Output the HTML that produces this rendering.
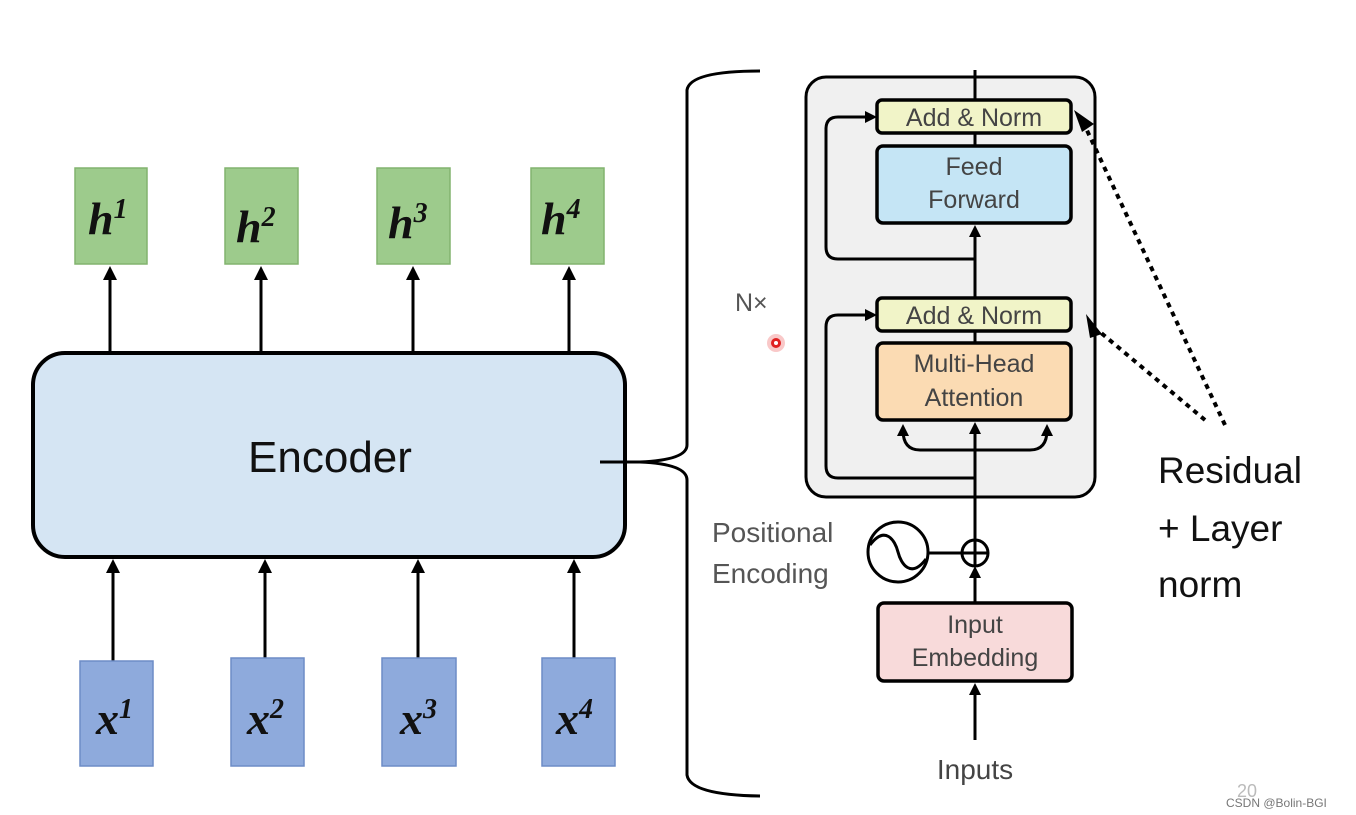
<!DOCTYPE html>
<html><head><meta charset="utf-8"><style>
html,body{margin:0;padding:0;background:#fff;width:1356px;height:815px;overflow:hidden}
svg{display:block}
.m{font-family:"Liberation Serif",serif;font-weight:bold;font-style:italic;font-size:46px;fill:#111}
.s{font-family:"Liberation Sans",sans-serif;fill:#444;font-size:25px}
</style></head><body>
<svg width="1356" height="815" viewBox="0 0 1356 815">
<defs>
<marker id="a" markerWidth="12" markerHeight="12" refX="6" refY="6" orient="auto" markerUnits="userSpaceOnUse"><path d="M0,0 L12,6 L0,12 z" fill="#000"/></marker>
<marker id="b" markerWidth="14" markerHeight="14" refX="10" refY="7" orient="auto" markerUnits="userSpaceOnUse"><path d="M0,0 L14,7 L0,14 z" fill="#000"/></marker>
</defs>
<g fill="#9dcb8c" stroke="#82b36f" stroke-width="1.5">
<rect x="75" y="168" width="72" height="96"/><rect x="225" y="168" width="73" height="96"/>
<rect x="377" y="168" width="73" height="96"/><rect x="531" y="168" width="73" height="96"/>
</g>
<g class="m"><text x="88" y="234">h<tspan style="font-size:28px" dy="-16">1</tspan></text>
<text x="236" y="242">h<tspan style="font-size:28px" dy="-16">2</tspan></text>
<text x="388" y="238">h<tspan style="font-size:28px" dy="-16">3</tspan></text>
<text x="541" y="234">h<tspan style="font-size:28px" dy="-16">4</tspan></text></g>
<g stroke="#000" stroke-width="3" marker-end="url(#b)">
<line x1="110" y1="352" x2="110" y2="270"/><line x1="261" y1="352" x2="261" y2="270"/>
<line x1="413" y1="352" x2="413" y2="270"/><line x1="569" y1="352" x2="569" y2="270"/>
<line x1="113" y1="661" x2="113" y2="563"/><line x1="265" y1="658" x2="265" y2="563"/>
<line x1="418" y1="658" x2="418" y2="563"/><line x1="574" y1="658" x2="574" y2="563"/>
</g>
<rect x="33" y="353" width="592" height="204" rx="32" fill="#d5e5f3" stroke="#000" stroke-width="4"/>
<text x="330" y="472" font-family="Liberation Sans,sans-serif" font-size="44" fill="#111" text-anchor="middle">Encoder</text>
<g fill="#8eaadc" stroke="#6d8cc6" stroke-width="1.5">
<rect x="80" y="661" width="73" height="105"/><rect x="231" y="658" width="73" height="108"/>
<rect x="382" y="658" width="74" height="108"/><rect x="542" y="658" width="73" height="108"/>
</g>
<g class="m"><text x="96" y="734">x<tspan style="font-size:28px" dy="-16">1</tspan></text>
<text x="247" y="734">x<tspan style="font-size:28px" dy="-16">2</tspan></text>
<text x="400" y="734">x<tspan style="font-size:28px" dy="-16">3</tspan></text>
<text x="556" y="734">x<tspan style="font-size:28px" dy="-16">4</tspan></text></g>
<path d="M760,71 Q690,71 687,90 L687,445 Q687,460 640,462 L600,462 M640,462 Q687,464 687,480 L687,775 Q690,795 760,796" fill="none" stroke="#000" stroke-width="3"/>
<rect x="806" y="77" width="289" height="420" rx="20" fill="#f0f0f0" stroke="#000" stroke-width="3"/>
<g stroke="#000" stroke-width="3" fill="none">
<line x1="975" y1="70" x2="975" y2="100"/>
<line x1="975" y1="133" x2="975" y2="146"/>
<line x1="975" y1="331" x2="975" y2="343"/>
<line x1="975" y1="298" x2="975" y2="231" marker-end="url(#a)"/>
<path d="M975,259 L838,259 Q826,259 826,247 L826,129 Q826,117 838,117 L871,117" marker-end="url(#a)"/>
<path d="M975,478 L838,478 Q826,478 826,466 L826,327 Q826,315 838,315 L871,315" marker-end="url(#a)"/>
<path d="M975,540 L975,428" marker-end="url(#a)"/>
<path d="M975,450 L920,450 Q903,450 903,430" marker-end="url(#a)"/>
<path d="M975,450 L1030,450 Q1047,450 1047,430" marker-end="url(#a)"/>
<line x1="975" y1="603" x2="975" y2="572" marker-end="url(#a)"/>
<line x1="975" y1="740" x2="975" y2="689" marker-end="url(#a)"/>
<circle cx="975" cy="553" r="13"/>
<line x1="962" y1="553" x2="988" y2="553"/><line x1="975" y1="540" x2="975" y2="566"/>
<circle cx="898" cy="552" r="30"/>
<path d="M870,545 C885,525 895,540 898,552 C901,564 911,579 926,559"/>
<line x1="928" y1="553" x2="962" y2="553"/>
</g>
<g stroke="#000" stroke-width="3.5">
<rect x="877" y="100" width="194" height="33" rx="5" fill="#f1f4c8"/>
<rect x="877" y="146" width="194" height="77" rx="6" fill="#c5e5f5"/>
<rect x="877" y="298" width="194" height="33" rx="5" fill="#f1f4c8"/>
<rect x="877" y="343" width="194" height="77" rx="6" fill="#fbdbb3"/>
<rect x="878" y="603" width="194" height="78" rx="6" fill="#f8dada"/>
</g>
<g class="s" text-anchor="middle">
<text x="974" y="126">Add &amp; Norm</text>
<text x="974" y="175">Feed</text><text x="974" y="208">Forward</text>
<text x="974" y="324">Add &amp; Norm</text>
<text x="974" y="372">Multi-Head</text><text x="974" y="406">Attention</text>
<text x="975" y="633">Input</text><text x="975" y="666">Embedding</text>
<text x="975" y="779" style="font-size:28px">Inputs</text>
</g>
<g class="s" style="font-size:28px;fill:#555"><text x="712" y="542">Positional</text><text x="712" y="583">Encoding</text></g>
<text x="735" y="311" class="s" style="font-size:25px;fill:#555">N×</text>
<circle cx="776" cy="343" r="9" fill="#f7b0b0" opacity="0.7"/><circle cx="776" cy="343" r="5" fill="#e02020"/><circle cx="776" cy="343" r="2" fill="#fff"/>
<g stroke="#000" stroke-width="4" stroke-dasharray="5,5" fill="none">
<line x1="1225" y1="425" x2="1084" y2="124"/>
<line x1="1205" y1="420" x2="1100" y2="332"/>
</g>
<path d="M1074,110 L1094,124 L1082,132 z" fill="#000"/>
<path d="M1086,314 L1102,334 L1090,338 z" fill="#000"/>
<g font-family="Liberation Sans,sans-serif" font-size="37" fill="#111">
<text x="1158" y="483">Residual</text><text x="1158" y="541">+ Layer</text><text x="1158" y="597">norm</text></g>
<text x="1237" y="797" font-family="Liberation Sans,sans-serif" font-size="18" fill="#bbb">20</text>
<text x="1226" y="807" font-family="Liberation Sans,sans-serif" font-size="12" fill="#777">CSDN @Bolin-BGI</text>
</svg>
</body></html>
